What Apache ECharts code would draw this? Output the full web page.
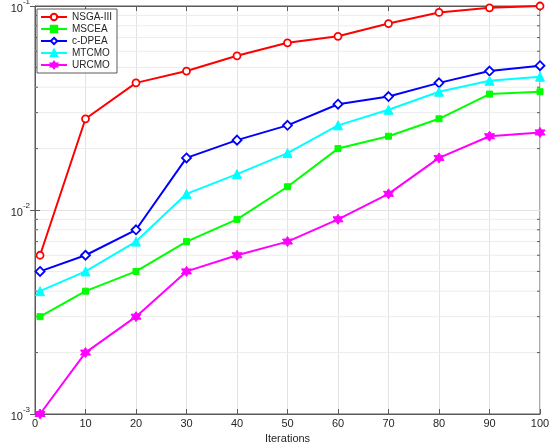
<!DOCTYPE html>
<html>
<head>
<meta charset="utf-8">
<script src="https://cdn.jsdelivr.net/npm/echarts@6/dist/echarts.min.js"></script>
<style>
html,body{margin:0;padding:0;background:#fff;}
#chart{width:550px;height:445px;}
</style>
</head>
<body>
<div id="chart"></div>
<script>
const iterations = [1, 10, 20, 30, 40, 50, 60, 70, 80, 90, 100];
const nsga3  = [0.006, 0.028, 0.042, 0.048, 0.057, 0.066, 0.071, 0.082, 0.093, 0.098, 0.1];
const mscea  = [0.003, 0.004, 0.005, 0.007, 0.009, 0.013, 0.020, 0.023, 0.028, 0.037, 0.038];
const cdpea  = [0.005, 0.006, 0.008, 0.018, 0.022, 0.026, 0.033, 0.036, 0.042, 0.048, 0.051];
const mtcmo  = [0.004, 0.005, 0.007, 0.012, 0.015, 0.019, 0.026, 0.031, 0.038, 0.043, 0.045];
const urcmo  = [0.001, 0.002, 0.003, 0.005, 0.006, 0.007, 0.009, 0.012, 0.018, 0.023, 0.024];
const seriesNames = ['NSGA-III', 'MSCEA', 'c-DPEA', 'MTCMO', 'URCMO'];
const minorYTicks = [0.002,0.003,0.004,0.005,0.006,0.007,0.008,0.009,0.02,0.03,0.04,0.05,0.06,0.07,0.08,0.09];
const xRange = [0, 100];
const yRange = [0.001, 0.1];

const hexagram = 'path://M50 0L64.43 25L93.3 25L78.87 50L93.3 75L64.43 75L50 100L35.57 75L6.7 75L21.13 50L6.7 25L35.57 25Z';
const axisColor = '#5a5a5a';
const textColor = '#262626';
const gridColor = '#e3e3e3';

function pairs(ys) { return iterations.map((x, i) => [x, ys[i]]); }

function mk(name, data, color, symbol, size, filled) {
  return {
    name: name, type: 'line', data: pairs(data), xAxisIndex: 0, yAxisIndex: 0,
    symbol: symbol, symbolSize: size, showSymbol: true,
    lineStyle: {color: color, width: 2},
    itemStyle: {color: filled ? color : '#fff', borderColor: color, borderWidth: filled ? 1 : 1.8},
    clip: false, z: 5
  };
}

const logLabel = {
  color: textColor, margin: 5,
  formatter: v => '{b|10}{s|' + Math.round(Math.log10(v)) + '}',
  rich: {
    b: {fontSize: 11, color: textColor, padding: [5, 0, 0, 0], verticalAlign: 'bottom', fontFamily: 'Liberation Sans'},
    s: {fontSize: 8, color: textColor, verticalAlign: 'top', fontFamily: 'Liberation Sans'}
  }
};

const chart = echarts.init(document.getElementById('chart'));
chart.setOption({
  animation: false,
  backgroundColor: '#fff',
  textStyle: {fontFamily: 'Liberation Sans'},
  grid: {left: 35, right: 10, top: 6, bottom: 31, containLabel: false, outerBoundsMode: 'none',
         show: true, borderColor: axisColor, borderWidth: 1, backgroundColor: 'transparent'},
  legend: {
    orient: 'vertical', left: 37, top: 9,
    data: seriesNames,
    itemWidth: 26, itemHeight: 8, itemGap: 2,
    padding: [3, 5, 3, 3],
    backgroundColor: '#fff', borderColor: '#333', borderWidth: 0.8,
    textStyle: {fontSize: 10, color: textColor, fontFamily: 'Liberation Sans'}
  },
  xAxis: [{
    type: 'value', min: xRange[0], max: xRange[1], interval: 10,
    name: 'Iterations', nameLocation: 'middle', nameGap: 19,
    nameTextStyle: {fontSize: 11, color: textColor},
    axisLine: {lineStyle: {color: axisColor}},
    axisTick: {inside: true, length: 5, lineStyle: {color: axisColor}},
    axisLabel: {fontSize: 11, color: textColor, margin: 4},
    splitLine: {show: true, lineStyle: {color: gridColor}}
  }, {
    type: 'value', min: xRange[0], max: xRange[1], interval: 10, position: 'top',
    axisLine: {show: true, lineStyle: {color: axisColor}},
    axisTick: {inside: true, length: 5, lineStyle: {color: axisColor}},
    axisLabel: {show: false}, splitLine: {show: false}
  }],
  yAxis: [{
    type: 'log', logBase: 10, min: yRange[0], max: yRange[1],
    name: 'BER', nameLocation: 'middle', nameGap: 25, nameRotate: 90,
    nameTextStyle: {fontSize: 11, color: textColor},
    axisLine: {show: true, lineStyle: {color: axisColor}},
    axisTick: {inside: true, length: 5, lineStyle: {color: axisColor}},
    axisLabel: logLabel,
    splitLine: {show: true, lineStyle: {color: gridColor}}
  }, {
    type: 'log', logBase: 10, min: yRange[0], max: yRange[1], position: 'right',
    axisLine: {show: true, lineStyle: {color: axisColor}},
    axisTick: {inside: true, length: 5, lineStyle: {color: axisColor}},
    axisLabel: {show: false}, splitLine: {show: false}
  }],
  series: [
    {
      type: 'custom', name: 'minor', silent: true, z: 1,
      xAxisIndex: 0, yAxisIndex: 0,
      data: minorYTicks.map(v => [xRange[0], v]),
      encode: {x: 0, y: 1},
      renderItem: function (params, api) {
        const cs = params.coordSys;
        const y = api.coord([xRange[0], api.value(1)])[1];
        return {
          type: 'group',
          children: [
            {type: 'line', shape: {x1: cs.x, y1: y, x2: cs.x + cs.width, y2: y}, style: {stroke: '#ececec', lineWidth: 1}},
            {type: 'line', shape: {x1: cs.x, y1: y, x2: cs.x + 3, y2: y}, style: {stroke: axisColor, lineWidth: 1}},
            {type: 'line', shape: {x1: cs.x + cs.width - 3, y1: y, x2: cs.x + cs.width, y2: y}, style: {stroke: axisColor, lineWidth: 1}}
          ]
        };
      }
    },
    mk(seriesNames[0], nsga3, '#ff0000', 'circle', 7, false),
    mk(seriesNames[1], mscea, '#00ff00', 'rect', 6, true),
    mk(seriesNames[2], cdpea, '#0000ff', 'diamond', 9, false),
    mk(seriesNames[3], mtcmo, '#00ffff', 'triangle', 9, true),
    mk(seriesNames[4], urcmo, '#ff00ff', hexagram, 10, true)
  ]
});
</script>
</body>
</html>
